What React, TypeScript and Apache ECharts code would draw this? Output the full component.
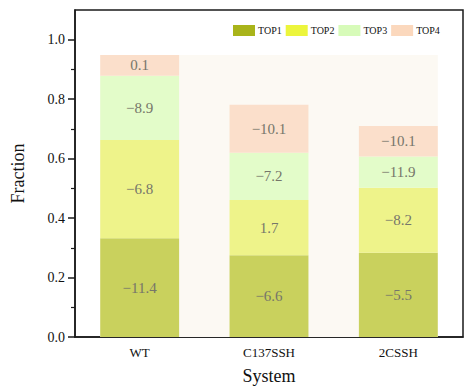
import React, { useEffect, useRef } from "react";
import * as echarts from "echarts";

const categories = ["WT", "C137SSH", "2CSSH"];
const seriesNames = ["TOP1", "TOP2", "TOP3", "TOP4"];
const top1 = [0.332, 0.275, 0.283];
const top2 = [0.331, 0.186, 0.219];
const top3 = [0.216, 0.159, 0.105];
const top4 = [0.07, 0.161, 0.103];
const top1Labels = ["\u221211.4", "\u22126.6", "\u22125.5"];
const top2Labels = ["\u22126.8", "1.7", "\u22128.2"];
const top3Labels = ["\u22128.9", "\u22127.2", "\u221211.9"];
const top4Labels = ["0.1", "\u221210.1", "\u221210.1"];
const yTickValues = [0, 0.2, 0.4, 0.6, 0.8, 1.0];

const barColors = ["#c9d15d", "#eef38a", "#e3fcc9", "#fbdfcb"];
const legendColors = ["#a9b41a", "#ecf53c", "#d7fbb9", "#fbd8bd"];
const serif = "'Liberation Serif', 'DejaVu Serif', serif";

export default function App() {
  const ref = useRef<HTMLDivElement>(null);
  useEffect(() => {
    if (!ref.current) return;
    const chart = echarts.init(ref.current, undefined, { renderer: "svg" });
    const values = [top1, top2, top3, top4];
    const labels = [top1Labels, top2Labels, top3Labels, top4Labels];
    const series = seriesNames.map((name, si) => ({
      name,
      type: "bar",
      stack: "total",
      barWidth: "61%",
      z: 3,
      data: values[si].map((v, i) => ({
        value: v,
        label: { formatter: labels[si][i] },
      })),
      itemStyle: { color: barColors[si] },
      label: {
        show: true,
        position: "inside",
        color: "#76766a",
        fontFamily: serif,
        fontSize: 15,
      },
    }));
    chart.setOption({
      animation: false,
      backgroundColor: "#ffffff",
      grid: {
        left: 75,
        right: 11,
        top: 10,
        bottom: 55,
        show: true,
        borderColor: "#1a1a1a",
        borderWidth: 1.5,
        backgroundColor: "transparent",
      },
      legend: {
        top: 20,
        left: 228,
        itemWidth: 22,
        itemHeight: 11,
        itemGap: 4,
        icon: "rect",
        textStyle: { fontFamily: serif, fontSize: 10, color: "#111", padding: [0, 0, 0, -2] },
        data: seriesNames.map((n, i) => ({ name: n, itemStyle: { color: legendColors[i] } })),
      },
      xAxis: {
        type: "category",
        data: categories,
        name: "System",
        nameLocation: "middle",
        nameGap: 30,
        nameTextStyle: { fontFamily: serif, fontSize: 18, color: "#111" },
        axisLine: { lineStyle: { color: "#1a1a1a", width: 1.5 } },
        axisTick: { alignWithLabel: true, length: 5, lineStyle: { color: "#1a1a1a", width: 1.5 } },
        axisLabel: { fontFamily: serif, fontSize: 13, color: "#111", margin: 9 },
      },
      yAxis: {
        type: "value",
        min: 0,
        max: 1.1,
        interval: 0.2,
        name: "Fraction",
        nameLocation: "middle",
        nameGap: 48,
        nameTextStyle: { fontFamily: serif, fontSize: 18, color: "#111" },
        axisLine: { show: true, lineStyle: { color: "#1a1a1a", width: 1.5 } },
        axisTick: { show: true, length: 7, customValues: yTickValues, lineStyle: { color: "#1a1a1a", width: 1.5 } },
        minorTick: { show: true, splitNumber: 2, length: 4, lineStyle: { color: "#1a1a1a", width: 1.2 } },
        splitLine: { show: false },
        axisLabel: {
          fontFamily: serif,
          fontSize: 14,
          color: "#111",
          margin: 10,
          customValues: yTickValues,
          formatter: (v: number) => v.toFixed(1),
        },
      },
      series,
    });
    const totals = categories.map((_, i) => top1[i] + top2[i] + top3[i] + top4[i]);
    const maxTotal = Math.max(...totals);
    const c0 = chart.convertToPixel({ xAxisIndex: 0 }, categories[0]) as number;
    const c1 = chart.convertToPixel({ xAxisIndex: 0 }, categories[1]) as number;
    const cN = chart.convertToPixel({ xAxisIndex: 0 }, categories[categories.length - 1]) as number;
    const bw = (c1 - c0) * 0.61;
    const yTop = chart.convertToPixel({ yAxisIndex: 0 }, maxTotal) as number;
    const yBot = chart.convertToPixel({ yAxisIndex: 0 }, 0) as number;
    chart.setOption({
      graphic: [
        {
          type: "rect",
          z: 1,
          shape: { x: c0 - bw / 2, y: yTop, width: cN - c0 + bw, height: yBot - yTop },
          style: { fill: "#fcf9f3" },
          silent: true,
        },
      ],
    });
    return () => chart.dispose();
  }, []);
  return <div ref={ref} style={{ width: 474, height: 392, position: "absolute", left: 0, top: 0 }} />;
}
